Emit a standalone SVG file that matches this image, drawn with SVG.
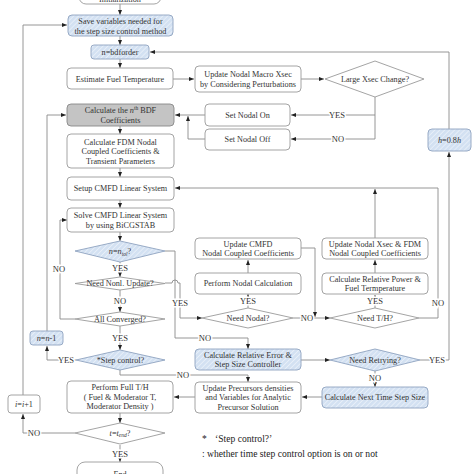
<svg xmlns="http://www.w3.org/2000/svg" width="474" height="474" viewBox="0 0 474 474">
<defs>
<pattern id="hatch" patternUnits="userSpaceOnUse" width="3.5" height="3.5" patternTransform="rotate(45)">
<rect width="3.5" height="3.5" fill="#d3e1f2"/>
<line x1="0" y1="0" x2="0" y2="3.5" stroke="#eef3fa" stroke-width="1.4"/>
</pattern>
<marker id="ah" markerUnits="userSpaceOnUse" markerWidth="5" markerHeight="5" viewBox="0 0 10 10" refX="10" refY="5" orient="auto">
<path d="M0,1 L10,5 L0,9 z" fill="#222"/>
</marker>
</defs>
<style>
.b{fill:#fff;stroke:#9a9a9a;stroke-width:0.9}
.h{fill:url(#hatch);stroke:#8fa3bf;stroke-width:0.9}
.g{fill:#c4c4c4;stroke:#888;stroke-width:0.9}
.t{font-family:"Liberation Serif",serif;font-size:8.2px;fill:#333;text-anchor:middle}
.c{fill:none;stroke:#8a8a8a;stroke-width:0.9}
.a{marker-end:url(#ah)}
.l{font-family:"Liberation Serif",serif;font-size:8.5px;fill:#333;text-anchor:middle;paint-order:stroke;stroke:#fff;stroke-width:3}
.f{font-family:"Liberation Serif",serif;font-size:9.6px;fill:#222}
</style>
<rect width="474" height="474" fill="#fff"/>

<g id="connectors">
<path class="c a" d="M120,4 V15"/>
<path class="c a" d="M23,395 V25 H67"/>
<path class="c a" d="M120,36 V45"/>
<path class="c a" d="M449,129 V52 H150"/>
<path class="c a" d="M120,59 V68"/>
<path class="c a" d="M173,79 H194"/>
<path class="c a" d="M301,79 H324"/>
<path class="c" d="M375,97 V139"/>
<path class="c a" d="M375,115 H291"/>
<path class="c a" d="M375,139 H291"/>
<path class="c a" d="M205,115 H175"/>
<path class="c a" d="M205,139 H188 V116"/>
<path class="c a" d="M47,331 V115 H66"/>
<path class="c a" d="M120,126 V134"/>
<path class="c a" d="M120,168 V177"/>
<path class="c a" d="M120,200 V208"/>
<path class="c a" d="M120,232 V241"/>
<path class="c a" d="M120,262 V277"/>
<path class="c a" d="M120,290 V312"/>
<path class="c a" d="M120,326 V350"/>
<path class="c a" d="M75,319 H60 V220 H67"/>
<path class="c a" d="M76,360 H47 V346"/>
<path class="c a" d="M165,251 H175 V338 H248 V349"/>
<path class="c a" d="M165,283 H172 A3,3 0 0 1 178,283 H180 V318 H202"/>
<path class="c a" d="M248,308 V294"/>
<path class="c a" d="M248,273 V260"/>
<path class="c a" d="M301,248 H315 V317"/>
<path class="c a" d="M293,318 H330"/>
<path class="c a" d="M375,308 V295"/>
<path class="c a" d="M375,273 V260"/>
<path class="c a" d="M375,238 V189"/>
<path class="c a" d="M419,318 H438 V188 H175"/>
<path class="c a" d="M120,370 V375 H248 V382"/>
<path class="c a" d="M301,360 H330"/>
<path class="c a" d="M375,370 V387"/>
<path class="c a" d="M420,360 H449 V152"/>
<path class="c a" d="M322,397 H302"/>
<path class="c a" d="M195,397 H174"/>
<path class="c a" d="M120,413 V423"/>
<path class="c a" d="M75,433 H23 V414"/>
<path class="c a" d="M120,445 V462"/>
<text class="l" x="337" y="118">YES</text>
<text class="l" x="338" y="142">NO</text>
<text class="l" x="120" y="271">YES</text>
<text class="l" x="120" y="304">NO</text>
<text class="l" x="120" y="341">YES</text>
<text class="l" x="59" y="272">NO</text>
<text class="l" x="66" y="363">YES</text>
<text class="l" x="205" y="341">NO</text>
<text class="l" x="180" y="306">YES</text>
<text class="l" x="248" y="304">YES</text>
<text class="l" x="307" y="321">NO</text>
<text class="l" x="375" y="304">YES</text>
<text class="l" x="438" y="306">NO</text>
<text class="l" x="183" y="378">NO</text>
<text class="l" x="375" y="381">NO</text>
<text class="l" x="437" y="363">YES</text>
<text class="l" x="34" y="436">NO</text>
<text class="l" x="120" y="457">YES</text>
</g>

<g id="init"><rect class="b" x="79" y="-14" width="82" height="18" rx="7"/><text class="t" x="120" y="2">Initialization</text></g>
<g id="save"><rect class="h" x="68" y="15" width="105" height="21" rx="4"/><text class="t" x="120.5" y="23.5">Save variables needed for</text><text class="t" x="120.5" y="33.5">the step size control method</text></g>
<g id="bdforder"><rect class="h" x="91" y="45" width="58" height="14" rx="3"/><text class="t" x="120" y="54.8">n=bdforder</text></g>
<g id="estfuel"><rect class="b" x="67" y="68" width="106" height="21" rx="4"/><text class="t" x="120" y="81.5">Estimate Fuel Temperature</text></g>
<g id="updxsec"><rect class="b" x="195" y="66" width="106" height="26" rx="4"/><text class="t" x="248" y="76.5">Update Nodal Macro Xsec</text><text class="t" x="248" y="86.5">by Considering Perturbations</text></g>
<g id="largexsec"><polygon class="b" points="325,79 375,61 424,79 375,97"/><text class="t" x="375" y="81.8">Large Xsec Change?</text></g>
<g id="nodalon"><rect class="b" x="205" y="104" width="85" height="22" rx="4"/><text class="t" x="247.5" y="117.8">Set Nodal On</text></g>
<g id="nodaloff"><rect class="b" x="205" y="129" width="85" height="21" rx="4"/><text class="t" x="247.5" y="142.3">Set Nodal Off</text></g>
<g id="h08"><rect class="h" x="428" y="129" width="43" height="22" rx="4"/><text class="t" x="449.5" y="142.8"><tspan font-style="italic">h</tspan>=0.8<tspan font-style="italic">h</tspan></text></g>
<g id="bdf"><rect class="g" x="67" y="104" width="107" height="22" rx="4"/><text class="t" x="120.5" y="113">Calculate the <tspan font-style="italic">n</tspan><tspan font-size="5.5px" dy="-3">th</tspan><tspan dy="3"> BDF</tspan></text><text class="t" x="120.5" y="123">Coefficients</text></g>
<g id="fdm"><rect class="b" x="67" y="134" width="107" height="34" rx="4"/><text class="t" x="120.5" y="144.5">Calculate FDM Nodal</text><text class="t" x="120.5" y="154.2">Coupled Coefficients &amp;</text><text class="t" x="120.5" y="163.9">Transient Parameters</text></g>
<g id="setup"><rect class="b" x="67" y="177" width="107" height="23" rx="4"/><text class="t" x="120.5" y="191.3">Setup CMFD Linear System</text></g>
<g id="solve"><rect class="b" x="67" y="208" width="107" height="24" rx="4"/><text class="t" x="120.5" y="217.5">Solve CMFD Linear System</text><text class="t" x="120.5" y="227.5">by using BiCGSTAB</text></g>
<g id="ntol"><polygon class="h" points="75,251 120,241 165,251 120,262"/><text class="t" x="120" y="254"><tspan font-style="italic">n</tspan>=<tspan font-style="italic">n</tspan><tspan font-size="5.5px" dy="1.5" font-style="italic">tol</tspan><tspan dy="-1.5">?</tspan></text></g>
<g id="nonl"><polygon class="b" points="75,283.5 120,277 165,283.5 120,290"/><text class="t" x="120" y="286.3">Need Nonl. Update?</text></g>
<g id="conv"><polygon class="b" points="75,319 120,312 165,319 120,326"/><text class="t" x="120" y="321.8">All Converged?</text></g>
<g id="nm1"><rect class="h" x="30" y="331" width="33" height="14" rx="3"/><text class="t" x="46.5" y="340.8"><tspan font-style="italic">n</tspan>=<tspan font-style="italic">n</tspan>-1</text></g>
<g id="stepctl"><polygon class="h" points="76,360 120,350 165,360 120,370"/><text class="t" x="120.5" y="362.8">*Step control?</text></g>
<g id="updcmfd"><rect class="b" x="195" y="238" width="106" height="21" rx="4"/><text class="t" x="248" y="246.5">Update CMFD</text><text class="t" x="248" y="256">Nodal Coupled Coefficients</text></g>
<g id="perfnodal"><rect class="b" x="195" y="273" width="106" height="21" rx="4"/><text class="t" x="248" y="286.3">Perform Nodal Calculation</text></g>
<g id="neednodal"><polygon class="b" points="202,318 248,308 293,318 248,328"/><text class="t" x="248" y="320.8">Need Nodal?</text></g>
<g id="updnxs"><rect class="b" x="322" y="238" width="106" height="21" rx="4"/><text class="t" x="375" y="246.5">Update Nodal Xsec &amp; FDM</text><text class="t" x="375" y="256">Nodal Coupled Coefficients</text></g>
<g id="relpow"><rect class="b" x="322" y="273" width="106" height="21" rx="4"/><text class="t" x="375" y="281.5">Calculate Relative Power &amp;</text><text class="t" x="375" y="291">Fuel Termperature</text></g>
<g id="needth"><polygon class="b" points="330,318 375,308 419,318 375,328"/><text class="t" x="375" y="320.8">Need T/H?</text></g>
<g id="relerr"><rect class="h" x="195" y="349" width="106" height="21" rx="4"/><text class="t" x="248" y="357.5">Calculate Relative Error &amp;</text><text class="t" x="248" y="367">Step Size Controller</text></g>
<g id="retry"><polygon class="h" points="330,360 375,349 420,360 375,371"/><text class="t" x="375" y="362.8">Need Retrying?</text></g>
<g id="nextstep"><rect class="h" x="322" y="387" width="106" height="21" rx="4"/><text class="t" x="375" y="400.3">Calculate Next Time Step Size</text></g>
<g id="precur"><rect class="b" x="195" y="382" width="106" height="31" rx="4"/><text class="t" x="248" y="390.5">Update Precursors densities</text><text class="t" x="248" y="400.2">and Variables for Analytic</text><text class="t" x="248" y="409.9">Precursor Solution</text></g>
<g id="fullth"><rect class="b" x="67" y="381" width="106" height="32" rx="4"/><text class="t" x="120" y="390">Perform Full T/H</text><text class="t" x="120" y="399.7">( Fuel &amp; Moderator T,</text><text class="t" x="120" y="409.4">Moderator Density )</text></g>
<g id="ip1"><rect class="b" x="8" y="395" width="32" height="18" rx="3"/><text class="t" x="24" y="406.8"><tspan font-style="italic">i</tspan>=<tspan font-style="italic">i</tspan>+1</text></g>
<g id="tend"><polygon class="b" points="75,433 120,423 165,433 120,444"/><text class="t" x="120" y="435.8"><tspan font-style="italic">t</tspan>=<tspan font-style="italic">t</tspan><tspan font-size="5.5px" dy="1.5" font-style="italic">end</tspan><tspan dy="-1.5">?</tspan></text></g>
<g id="end"><rect class="b" x="77" y="462" width="86" height="22" rx="8"/><text class="t" x="120" y="477">End</text></g>
<g id="note"><text class="f" x="202" y="442">*</text><text class="f" x="215" y="442">‘Step control?’</text><text class="f" x="202" y="457">: whether time step control option is on or not</text></g>
</svg>
